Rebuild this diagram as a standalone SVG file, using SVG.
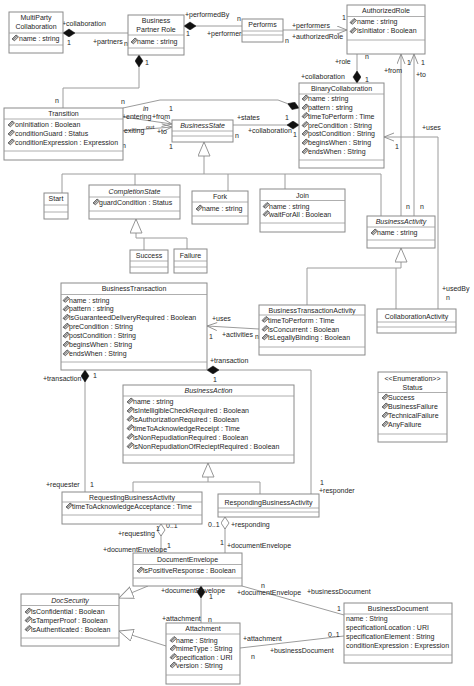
<svg xmlns="http://www.w3.org/2000/svg" xmlns:xlink="http://www.w3.org/1999/xlink" width="474" height="686" viewBox="0 0 474 686">
<style>
text{font-family:"Liberation Sans",Arial,sans-serif;font-size:7px;fill:#1e1e1e}
.m{text-anchor:middle}
.i{font-style:italic}
.b{fill:#fff;stroke:#8a8a8a;stroke-width:1}
.d{stroke:#9a9a9a;stroke-width:0.8}
.c{fill:none;stroke:#9c9c9c;stroke-width:1}
.s{font-size:6px}
</style>
<defs>
<g id="ic"><polygon points="0,4 4,0 6.5,1.8 2.5,5.8" fill="#c8c8c8" stroke="#333" stroke-width="0.7"/><line x1="1" y1="4.6" x2="4.8" y2="1" stroke="#333" stroke-width="0.6"/></g>
<marker id="dia" markerUnits="userSpaceOnUse" markerWidth="14" markerHeight="10" refX="12" refY="4" orient="auto"><path d="M0,4 L6,0 L12,4 L6,8 z" fill="#111" stroke="#111" stroke-width="0.5"/></marker>
<marker id="odia" markerUnits="userSpaceOnUse" markerWidth="14" markerHeight="10" refX="12.5" refY="4.5" orient="auto"><path d="M0.5,4.5 L6.5,0.5 L12.5,4.5 L6.5,8.5 z" fill="#fff" stroke="#777" stroke-width="0.8"/></marker>
<marker id="tri" markerUnits="userSpaceOnUse" markerWidth="16" markerHeight="14" refX="14.5" refY="6.5" orient="auto"><path d="M0.5,0.5 L14.5,6.5 L0.5,12.5 z" fill="#fff" stroke="#8a8a8a" stroke-width="0.9"/></marker>
<marker id="arr" markerUnits="userSpaceOnUse" markerWidth="12" markerHeight="10" refX="10.5" refY="4.5" orient="auto"><path d="M0.5,0.5 L10.5,4.5 L0.5,8.5" fill="none" stroke="#8a8a8a" stroke-width="0.9"/></marker>
</defs>
<rect width="474" height="686" fill="#fff"/>

<g id="connectors">
<path class="c" d="M128,33 H63" marker-end="url(#dia)"/>
<path class="c" d="M63,108 V88 H139 V55" marker-end="url(#dia)"/>
<path class="c" d="M242,26 H184" marker-end="url(#dia)"/>
<path class="c" d="M283,30 H347" marker-end="url(#arr)"/>
<path class="c" d="M357,54 V83" marker-end="url(#dia)"/>
<path class="c" d="M401,216 V54" marker-end="url(#arr)"/>
<path class="c" d="M414,216 V54" marker-end="url(#arr)"/>
<path class="c" d="M438,309 V137 H384" marker-end="url(#arr)"/>
<path class="c" d="M233,125 H299" marker-end="url(#dia)"/>
<path class="c" d="M123,108 L160,100 H278 L299,108" marker-end="url(#dia)"/>
<path class="c" d="M123,117 L172,124" marker-end="url(#arr)"/>
<path class="c" d="M123,131 L172,127" marker-end="url(#arr)"/>
<path class="c" d="M204,174 V142" marker-end="url(#tri)"/>
<path class="c" d="M62,193 V174 H381 V216"/>
<path class="c" d="M135,185 V174"/>
<path class="c" d="M228,191 V174"/>
<path class="c" d="M285,189 V174"/>
<path class="c" d="M136,238 V219" marker-end="url(#tri)"/>
<path class="c" d="M136,238 H187 V249"/>
<path class="c" d="M144,238 V250"/>
<path class="c" d="M401,268 V248" marker-end="url(#tri)"/>
<path class="c" d="M307,305 V268 H401"/>
<path class="c" d="M396,268 V309"/>
<path class="c" d="M259,329 L207,326" marker-end="url(#arr)"/>
<path class="c" d="M85,492 V370" marker-end="url(#dia)"/>
<path class="c" d="M311,494 V370 H207" marker-end="url(#dia)"/>
<path class="c" d="M208,482 V463" marker-end="url(#tri)"/>
<path class="c" d="M133,492 V482 H260 V494"/>
<path class="c" d="M161,553 V524" marker-end="url(#odia)"/>
<path class="c" d="M225,553 V517" marker-end="url(#odia)"/>
<path class="c" d="M201,623 V586" marker-end="url(#dia)"/>
<path class="c" d="M344,615 L242,586"/>
<path class="c" d="M240,648 L344,636"/>
<path class="c" d="M148,586 L119,598" marker-end="url(#tri)"/>
<path class="c" d="M166,646 L119,631" marker-end="url(#tri)"/>

<text x="62" y="25.5">+collaboration</text>
<text x="67" y="45">1</text>
<text x="93" y="44">+partners</text>
<text x="124" y="46">n</text>
<text x="145" y="64.5">1</text>
<text x="55" y="102.5">n</text>
<text x="185" y="17">+performedBy</text>
<text x="237" y="20.5">n</text>
<text x="186" y="36">1</text>
<text x="207" y="35.5">+performers</text>
<text x="292" y="27.5">+performers</text>
<text x="292" y="39">+authorizedRole</text>
<text x="285" y="43">n</text>
<text x="342" y="20">1</text>
<text x="335" y="63.5">+role</text>
<text x="365" y="58.5">n</text>
<text x="301" y="78.5">+collaboration</text>
<text x="365" y="81.5">1</text>
<text x="384" y="73">+from</text>
<text x="407" y="64.5">1</text>
<text x="421" y="64.5">1</text>
<text x="416" y="76.5">+to</text>
<text x="406" y="208.5">n</text>
<text x="420" y="208.5">n</text>
<text x="422" y="129.5">+uses</text>
<text x="395" y="148.5">1</text>
<text x="442" y="291">+usedBy</text>
<text x="446" y="299.5">n</text>
<text x="237" y="119.5">+states</text>
<text x="285" y="119.5">1</text>
<text x="248" y="132.5">+collaboration</text>
<text x="235" y="138">n</text>
<text x="293" y="136.5">1</text>
<text x="121" y="104">n</text>
<text x="143" y="110.5" class="i">in</text>
<text x="122" y="119">+entering</text>
<text x="152" y="119">+from</text>
<text x="120" y="132.5">+exiting</text>
<text x="146" y="128.5" class="s">out</text>
<text x="157" y="133.5">+to</text>
<text x="122" y="147.5">n</text>
<text x="169" y="111">1</text>
<text x="169" y="148.5">1</text>
<text x="212" y="321">+uses</text>
<text x="209" y="338.5">1</text>
<text x="222" y="336.5">+activities</text>
<text x="255" y="339">n</text>
<text x="43" y="380.5">+transaction</text>
<text x="93" y="377.5">1</text>
<text x="46" y="486.5">+requester</text>
<text x="90" y="486.5">1</text>
<text x="210" y="362.5">+transaction</text>
<text x="213" y="381.5">1</text>
<text x="320" y="485">1</text>
<text x="319" y="492.5">+responder</text>
<text x="166" y="528">0..1</text>
<text x="118" y="535.5">+requesting</text>
<text x="156" y="531">1</text>
<text x="103" y="551.5">+documentEnvelope</text>
<text x="167" y="548">1</text>
<text x="208" y="526.5">0..1</text>
<text x="231" y="526.5">+responding</text>
<text x="220" y="545">1</text>
<text x="227" y="547.5">+documentEnvelope</text>
<text x="161" y="592.5">+documentEnvelope</text>
<text x="209" y="598.5">1</text>
<text x="162" y="621">+attachment</text>
<text x="208" y="622">n</text>
<text x="261" y="588">n</text>
<text x="237" y="595">+documentEnvelope</text>
<text x="307" y="594">+businessDocument</text>
<text x="337" y="611">1</text>
<text x="243" y="640.5">+attachment</text>
<text x="270" y="652.5">+businessDocument</text>
<text x="251" y="658.5">n</text>
<text x="328" y="636.5">0..1</text>
</g>

<g id="multiPartyCollaboration">
<rect class="b" x="9" y="12" width="54" height="41"/>
<text class="m" x="36" y="20">MultiParty</text>
<text class="m" x="36" y="29">Collaboration</text>
<line class="d" x1="9" y1="33" x2="63" y2="33"/>
<use xlink:href="#ic" x="12" y="35"/><text x="19" y="41">name : string</text>
<line class="d" x1="9" y1="45" x2="63" y2="45"/>
</g>

<g id="businessPartnerRole">
<rect class="b" x="128" y="15" width="56" height="40"/>
<text class="m" x="156" y="22.5">Business</text>
<text class="m" x="156" y="31.5">Partner Role</text>
<line class="d" x1="128" y1="35" x2="184" y2="35"/>
<use xlink:href="#ic" x="131" y="38"/><text x="137" y="44">name : string</text>
<line class="d" x1="128" y1="48" x2="184" y2="48"/>
</g>

<g id="performs">
<rect class="b" x="242" y="19" width="41" height="23"/>
<text class="m" x="262.5" y="27">Performs</text>
<line class="d" x1="242" y1="31" x2="283" y2="31"/>
<line class="d" x1="242" y1="35" x2="283" y2="35"/>
</g>

<g id="authorizedRole">
<rect class="b" x="347" y="5" width="78" height="49"/>
<text class="m" x="386" y="13">AuthorizedRole</text>
<line class="d" x1="347" y1="16.5" x2="425" y2="16.5"/>
<use xlink:href="#ic" x="350" y="18.5"/><text x="357" y="24">name : string</text>
<use xlink:href="#ic" x="350" y="27.5"/><text x="357" y="33">isInitiator : Boolean</text>
<line class="d" x1="347" y1="40" x2="425" y2="40"/>
</g>

<g id="transition">
<rect class="b" x="4" y="108" width="119" height="52"/>
<text class="m" x="63.5" y="116">Transition</text>
<line class="d" x1="4" y1="119" x2="123" y2="119"/>
<use xlink:href="#ic" x="8" y="121"/><text x="15" y="127">onInitiation : Boolean</text>
<use xlink:href="#ic" x="8" y="130"/><text x="15" y="136">conditionGuard : Status</text>
<use xlink:href="#ic" x="8" y="139"/><text x="15" y="145">conditionExpression : Expression</text>
<line class="d" x1="4" y1="151" x2="123" y2="151"/>
</g>

<g id="businessState">
<rect class="b" x="172" y="120" width="61" height="22"/>
<text class="m i" x="202.5" y="128">BusinessState</text>
<line class="d" x1="172" y1="131" x2="233" y2="131"/>
<line class="d" x1="172" y1="136" x2="233" y2="136"/>
</g>

<g id="binaryCollaboration">
<rect class="b" x="299" y="83" width="85" height="85"/>
<text class="m" x="341.5" y="91">BinaryCollaboration</text>
<line class="d" x1="299" y1="94" x2="384" y2="94"/>
<use xlink:href="#ic" x="302" y="95"/><text x="308" y="101">name : string</text>
<use xlink:href="#ic" x="302" y="104"/><text x="308" y="110">pattern : string</text>
<use xlink:href="#ic" x="302" y="112.5"/><text x="308" y="118.5">timeToPerform : Time</text>
<use xlink:href="#ic" x="302" y="121.5"/><text x="308" y="127.5">preCondition : String</text>
<use xlink:href="#ic" x="302" y="130"/><text x="308" y="136">postCondition : String</text>
<use xlink:href="#ic" x="302" y="139"/><text x="308" y="145">beginsWhen : String</text>
<use xlink:href="#ic" x="302" y="148"/><text x="308" y="154">endsWhen : String</text>
<line class="d" x1="299" y1="160" x2="384" y2="160"/>
</g>

<g id="start">
<rect class="b" x="44" y="193" width="24" height="26"/>
<text class="m" x="56" y="201">Start</text>
<line class="d" x1="44" y1="205" x2="68" y2="205"/>
<line class="d" x1="44" y1="212" x2="68" y2="212"/>
</g>

<g id="completionState">
<rect class="b" x="89" y="185" width="91" height="34"/>
<text class="m i" x="134.5" y="194">CompletionState</text>
<line class="d" x1="89" y1="197" x2="180" y2="197"/>
<use xlink:href="#ic" x="93" y="199"/><text x="99" y="205">guardCondition : Status</text>
<line class="d" x1="89" y1="211" x2="180" y2="211"/>
</g>

<g id="fork">
<rect class="b" x="192" y="191" width="56" height="33"/>
<text class="m" x="220" y="199">Fork</text>
<line class="d" x1="192" y1="202" x2="248" y2="202"/>
<use xlink:href="#ic" x="196" y="205"/><text x="202" y="211">name : string</text>
<line class="d" x1="192" y1="216" x2="248" y2="216"/>
</g>

<g id="join">
<rect class="b" x="260" y="189" width="85" height="43"/>
<text class="m" x="302.5" y="198">Join</text>
<line class="d" x1="260" y1="200.5" x2="345" y2="200.5"/>
<use xlink:href="#ic" x="263" y="202.5"/><text x="269" y="208.5">name : string</text>
<use xlink:href="#ic" x="263" y="210.5"/><text x="269" y="216.5">waitForAll : Boolean</text>
<line class="d" x1="260" y1="223" x2="345" y2="223"/>
</g>

<g id="success">
<rect class="b" x="130" y="250" width="38" height="23"/>
<text class="m" x="149" y="258">Success</text>
<line class="d" x1="130" y1="261" x2="168" y2="261"/>
<line class="d" x1="130" y1="267" x2="168" y2="267"/>
</g>

<g id="failure">
<rect class="b" x="174" y="249" width="33" height="24"/>
<text class="m" x="190.5" y="257.5">Failure</text>
<line class="d" x1="174" y1="261" x2="207" y2="261"/>
<line class="d" x1="174" y1="267" x2="207" y2="267"/>
</g>

<g id="businessActivity">
<rect class="b" x="367" y="216" width="68" height="32"/>
<text class="m i" x="401" y="224">BusinessActivity</text>
<line class="d" x1="367" y1="227" x2="435" y2="227"/>
<use xlink:href="#ic" x="371" y="229"/><text x="377" y="235">name : string</text>
<line class="d" x1="367" y1="240" x2="435" y2="240"/>
</g>

<g id="collaborationActivity">
<rect class="b" x="377" y="309" width="79" height="24"/>
<text class="m" x="416.5" y="318.5">CollaborationActivity</text>
<line class="d" x1="377" y1="322" x2="456" y2="322"/>
<line class="d" x1="377" y1="327" x2="456" y2="327"/>
</g>

<g id="businessTransactionActivity">
<rect class="b" x="259" y="305" width="106" height="50"/>
<text class="m" x="312" y="312.5">BusinessTransactionActivity</text>
<line class="d" x1="259" y1="315" x2="365" y2="315"/>
<use xlink:href="#ic" x="262" y="316.5"/><text x="268" y="322.5">timeToPerform : Time</text>
<use xlink:href="#ic" x="262" y="325.5"/><text x="268" y="331.5">isConcurrent : Boolean</text>
<use xlink:href="#ic" x="262" y="334"/><text x="268" y="340">isLegallyBinding : Boolean</text>
<line class="d" x1="259" y1="347" x2="365" y2="347"/>
</g>

<g id="businessTransaction">
<rect class="b" x="61" y="283" width="146" height="87"/>
<text class="m" x="134" y="291">BusinessTransaction</text>
<line class="d" x1="61" y1="294.5" x2="207" y2="294.5"/>
<use xlink:href="#ic" x="63" y="296.5"/><text x="69" y="302.5">name : string</text>
<use xlink:href="#ic" x="63" y="305.4"/><text x="69" y="311.4">pattern : string</text>
<use xlink:href="#ic" x="63" y="314.3"/><text x="69" y="320.3">isGuaranteedDeliveryRequired : Boolean</text>
<use xlink:href="#ic" x="63" y="323.2"/><text x="69" y="329.2">preCondition : String</text>
<use xlink:href="#ic" x="63" y="332.1"/><text x="69" y="338.1">postCondition : String</text>
<use xlink:href="#ic" x="63" y="341"/><text x="69" y="347">beginsWhen : String</text>
<use xlink:href="#ic" x="63" y="349.9"/><text x="69" y="355.9">endsWhen : String</text>
<line class="d" x1="61" y1="362" x2="207" y2="362"/>
</g>

<g id="businessAction">
<rect class="b" x="123" y="385" width="171" height="78"/>
<text class="m i" x="208.5" y="393">BusinessAction</text>
<line class="d" x1="123" y1="396" x2="294" y2="396"/>
<use xlink:href="#ic" x="127" y="398"/><text x="133" y="404">name : string</text>
<use xlink:href="#ic" x="127" y="407"/><text x="133" y="413">isIntelligibleCheckRequired : Boolean</text>
<use xlink:href="#ic" x="127" y="415.5"/><text x="133" y="421.5">isAuthorizationRequired : Boolean</text>
<use xlink:href="#ic" x="127" y="424.5"/><text x="133" y="430.5">timeToAcknowledgeReceipt : Time</text>
<use xlink:href="#ic" x="127" y="433.5"/><text x="133" y="439.5">isNonRepudiationRequired : Boolean</text>
<use xlink:href="#ic" x="127" y="442.5"/><text x="133" y="448.5">isNonRepudiationOfRecieptRequired : Boolean</text>
<line class="d" x1="123" y1="455" x2="294" y2="455"/>
</g>

<g id="requestingBusinessActivity">
<rect class="b" x="62" y="492" width="140" height="32"/>
<text class="m" x="132" y="499.5">RequestingBusinessActivity</text>
<line class="d" x1="62" y1="502" x2="202" y2="502"/>
<use xlink:href="#ic" x="66" y="503"/><text x="72" y="509">timeToAcknowledgeAcceptance : Time</text>
<line class="d" x1="62" y1="515" x2="202" y2="515"/>
</g>

<g id="respondingBusinessActivity">
<rect class="b" x="218" y="494" width="101" height="23"/>
<text class="m" x="268.5" y="505">RespondingBusinessActivity</text>
<line class="d" x1="218" y1="508" x2="319" y2="508"/>
<line class="d" x1="218" y1="512" x2="319" y2="512"/>
</g>

<g id="documentEnvelope">
<rect class="b" x="133" y="553" width="109" height="33"/>
<text class="m" x="187.5" y="561.5">DocumentEnvelope</text>
<line class="d" x1="133" y1="564.5" x2="242" y2="564.5"/>
<use xlink:href="#ic" x="137" y="567"/><text x="143" y="573">isPositiveResponse : Boolean</text>
<line class="d" x1="133" y1="578" x2="242" y2="578"/>
</g>

<g id="docSecurity">
<rect class="b" x="21" y="594" width="98" height="52"/>
<text class="m i" x="70" y="602.5">DocSecurity</text>
<line class="d" x1="21" y1="605.5" x2="119" y2="605.5"/>
<use xlink:href="#ic" x="25" y="608"/><text x="31" y="614">isConfidential : Boolean</text>
<use xlink:href="#ic" x="25" y="616.5"/><text x="31" y="622.5">isTamperProof : Boolean</text>
<use xlink:href="#ic" x="25" y="625.5"/><text x="31" y="631.5">isAuthenticated : Boolean</text>
<line class="d" x1="21" y1="638" x2="119" y2="638"/>
</g>

<g id="attachment">
<rect class="b" x="166" y="623" width="74" height="61"/>
<text class="m" x="203" y="631">Attachment</text>
<line class="d" x1="166" y1="634" x2="240" y2="634"/>
<use xlink:href="#ic" x="170" y="636.5"/><text x="176" y="642.5">name : String</text>
<use xlink:href="#ic" x="170" y="645"/><text x="176" y="651">mimeType : String</text>
<use xlink:href="#ic" x="170" y="653.5"/><text x="176" y="659.5">specification : URI</text>
<use xlink:href="#ic" x="170" y="662"/><text x="176" y="668">version : String</text>
<line class="d" x1="166" y1="675" x2="240" y2="675"/>
</g>

<g id="businessDocument">
<rect class="b" x="344" y="603" width="108" height="60"/>
<text class="m" x="398" y="611">BusinessDocument</text>
<line class="d" x1="344" y1="614" x2="452" y2="614"/>
<text x="346" y="621">name : String</text>
<text x="346" y="630">specificationLocation : URI</text>
<text x="346" y="639">specificationElement : String</text>
<text x="346" y="648">conditionExpression : Expression</text>
<line class="d" x1="344" y1="655" x2="452" y2="655"/>
</g>

<g id="status">
<rect class="b" x="378" y="372" width="69" height="70"/>
<text class="m" x="412.5" y="381">&lt;&lt;Enumeration&gt;&gt;</text>
<text class="m" x="412.5" y="389.5">Status</text>
<line class="d" x1="378" y1="392.5" x2="447" y2="392.5"/>
<use xlink:href="#ic" x="382" y="394"/><text x="388" y="400">Success</text>
<use xlink:href="#ic" x="382" y="403"/><text x="388" y="409">BusinessFailure</text>
<use xlink:href="#ic" x="382" y="412"/><text x="388" y="418">TechnicalFailure</text>
<use xlink:href="#ic" x="382" y="421"/><text x="388" y="427">AnyFailure</text>
<line class="d" x1="378" y1="434" x2="447" y2="434"/>
</g>
</svg>
